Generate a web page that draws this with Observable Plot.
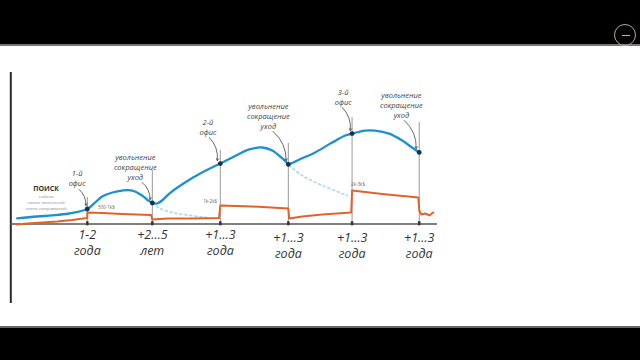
<!DOCTYPE html>
<html><head><meta charset="utf-8">
<script src="https://cdn.jsdelivr.net/npm/d3@7"></script>
<script src="https://cdn.jsdelivr.net/npm/@observablehq/plot@0.6"></script>
<style>
html,body{margin:0;padding:0;background:#000;width:640px;height:360px;overflow:hidden;font-family:"Open Sans",sans-serif}
#top{position:relative;height:44px;background:#000;border-bottom:2px solid #777}
#logo{position:absolute;left:614px;top:24px;width:22px;height:22px;border:1px solid #b9a98a;border-radius:50%;box-sizing:border-box}
#logo:after{content:"";position:absolute;left:7px;top:10px;width:8px;height:1px;background:#c9b99a}
#chart{height:280px;background:#fff}
#bottom{height:34px;background:#000;border-top:2px solid #666}
</style></head>
<body>
<div id="top"><div id="logo"></div></div>
<div id="chart"></div>
<div id="bottom"></div>
<script>
// scale domains (time units, salary level units)
const xDomain = [-0.4, 100];
const yDomain = [-53, 101];

// events (career milestones)
const eventX   = [17.6, 32.9, 48.9, 64.9, 79.9, 95.7];
const eventTop = [17.7, 35.7, 49, 53.7, 71, 67.7];
const eventDot = [10, 14, 40.3, 39.7, 60.3, 47.7];
const tickTop    = ["1-2", "+2…5", "+1…3", "+1…3", "+1…3", "+1…3"];
const tickBottom = ["года", "лет", "года", "года", "года", "года"];
const tickTopY    = [-7.3, -7.3, -7.3, -9, -9, -9];
const tickBottomY = [-18, -18, -18, -19.7, -19.7, -19.7];

// blue line (market value / skill), segments between events
const blueSeg = [1,1,1,1,1,1,1,1,1,1,1,1,1,1, 2,2,2,2,2,2,2, 3,3,3,3,3,3,3, 4,4,4,4,4,4,4, 5,5,5,5,5,5,5];
const blueT = [1.1,5.8,9.3,13.3,17.6,19.2,21.1,23.5,25.8,28.2,30.5,31.9,32.9,32.9,
               32.9,33.8,35.2,36.9,40.6,44.6,48.9,
               48.9,51.7,55.7,58.8,61.1,63.5,64.9,
               64.9,66.1,67.5,71.2,75.2,78.3,79.9,
               79.9,83,85.3,88.6,91.7,94,95.7];
const blueV = [3.7,5,5.7,7,10,13.7,18.3,21,22.3,22.3,19,15.7,14.3,14.3,
               14.3,13.6,15.7,20.3,27.7,34.3,40.3,
               40.3,44.3,49.7,51,49,43.7,39.7,
               39.7,41,43,47.7,54.3,59,60.3,
               60.3,62.3,62.3,60.3,55.7,51,47.7];

// dashed continuation (if staying)
const dashSeg = [1,1,1,1,1, 2,2,2,2];
const dashT = [32.9,34.8,37.6,41.1,45.8, 65.1,68.2,72.9,78.8];
const dashV = [13.7,10.3,7.7,6,4.3, 39,32.3,25.7,19];

// orange line (salary)
const orangeT = [0.9,3.5,7,10.5,14,17.6,17.6,21.1,25.8,32.6,32.9,36.4,42.3,48.6,48.9,56.4,64.9,65.1,68.2,72.9,79.7,79.9,87,95.5,95.7,96.2,97.1,98.1,99];
const orangeV = [-0.3,0.3,1,1.7,2.7,4,7.7,7.3,6.7,6,3,3.7,3.7,4,12.3,11.7,10.3,3.7,5,6.3,7.7,22.3,20,17.7,9,6.3,7,5.7,7.7];

// salary labels
const salaryText = ["500-1k$", "1k-2k$", "2k-3k$"];
const salaryT = [22.1, 46.5, 81.3];
const salaryV = [11, 15.2, 26.3];

// annotations (one entry per line)
const annLine = ["1-й", "офис",
                 "увольнение", "сокращение", "уход",
                 "2-й", "офис",
                 "увольнение", "сокращение", "уход",
                 "3-й", "офис",
                 "увольнение", "сокращение", "уход"];
const annLineT = [15.2, 15.2, 28.9, 28.9, 28.9, 46, 46, 60.2, 60.2, 60.2, 77.8, 77.8, 91.5, 91.5, 91.5];
const annLineV = [33.35, 26.65, 44.4, 37.7, 31, 67.65, 60.95, 78.4, 71.7, 65, 87.65, 80.95, 85.7, 79, 72.3];
const arrowT1 = [15.7, 30.5, 46.3, 61.3, 77.6, 92.2];
const arrowV1 = [23, 27.7, 57.7, 61.7, 77.7, 69];
const arrowT2 = [17.3, 32.4, 48.2, 64.4, 79.5, 95];
const arrowV2 = [12.3, 16.3, 42.3, 42.3, 62.3, 50.3];

const searchTitle = "ПОИСК";
const searchSub = ["собесы", "смена технологий", "смена направлений"];
const searchT = 7.9, searchTitleV = 23.5;
const searchSubV = [18.3, 14.3, 10.3];

const blue = blueT.map((t, i) => ({t, v: blueV[i], s: blueSeg[i]}));
const dash = dashT.map((t, i) => ({t, v: dashV[i], s: dashSeg[i]}));
const orange = orangeT.map((t, i) => ({t, v: orangeV[i]}));
const events = eventX.map((t, i) => ({t, top: eventTop[i], dot: eventDot[i], a: tickTop[i], b: tickBottom[i], ay: tickTopY[i], by: tickBottomY[i]}));
const salary = salaryText.map((s, i) => ({s, t: salaryT[i], v: salaryV[i]}));
const ann = annLine.map((s, i) => ({s, t: annLineT[i], v: annLineV[i]}));
const arrows = arrowT1.map((x1, i) => ({x1, y1: arrowV1[i], x2: arrowT2[i], y2: arrowV2[i]}));
const sub = searchSub.map((s, i) => ({s, v: searchSubV[i]}));

const font = "'Open Sans', sans-serif";
const chart = Plot.plot({
  width: 640, height: 280,
  marginTop: 0, marginRight: 0, marginBottom: 0, marginLeft: 0,
  style: {background: "#fff", fontFamily: font},
  x: {domain: xDomain, range: [10.3, 437], axis: null},
  y: {domain: yDomain, range: [257, 26], axis: null},
  marks: [
    Plot.ruleX([xDomain[0]], {y1: yDomain[0], y2: yDomain[1], stroke: "#2a2a2a", strokeWidth: 2}),
    Plot.ruleX(events, {x: "t", y1: 0, y2: "top", stroke: "#9a9a9a", strokeWidth: 1}),
    Plot.ruleY([0], {x1: xDomain[0], x2: xDomain[1], stroke: "#555", strokeWidth: 1.4}),
    Plot.ruleX(events, {x: "t", y1: -1.2, y2: 1.5, stroke: "#333", strokeWidth: 2.5}),
    Plot.line(dash, {x: "t", y: "v", z: "s", stroke: "#a9d9ec", strokeWidth: 1.6, strokeDasharray: "2,3", curve: "catmull-rom"}),
    Plot.line(orange, {x: "t", y: "v", stroke: "#e2622b", strokeWidth: 2, curve: "linear"}),
    Plot.line(blue, {x: "t", y: "v", z: "s", stroke: "#1c91d1", strokeWidth: 2.3, curve: "catmull-rom"}),
    Plot.dot(events, {x: "t", y: "dot", r: 2.4, fill: "#17324d"}),
    Plot.text(events, {x: "t", y: "ay", text: "a", fontSize: 12.5, fontStyle: "italic", fill: "#333"}),
    Plot.text(events, {x: "t", y: "by", text: "b", fontSize: 12.5, fontStyle: "italic", fill: "#333"}),
    Plot.text(salary, {x: "t", y: "v", text: "s", fontSize: 4.5, fill: "#666"}),
    Plot.text(ann, {x: "t", y: "v", text: "s", fontSize: 7.5, fontStyle: "italic", fill: "#444"}),
    Plot.arrow(arrows, {x1: "x1", y1: "y1", x2: "x2", y2: "y2", bend: 25, stroke: "#444", strokeWidth: 0.8, headLength: 4}),
    Plot.text([searchTitle], {x: searchT, y: searchTitleV, text: d => d, fontSize: 7, fontWeight: "bold", fill: "#333"}),
    Plot.text(sub, {x: searchT, y: "v", text: "s", fontSize: 4.2, fill: "#888"})
  ]
});
document.getElementById("chart").appendChild(chart);
</script>
</body></html>
